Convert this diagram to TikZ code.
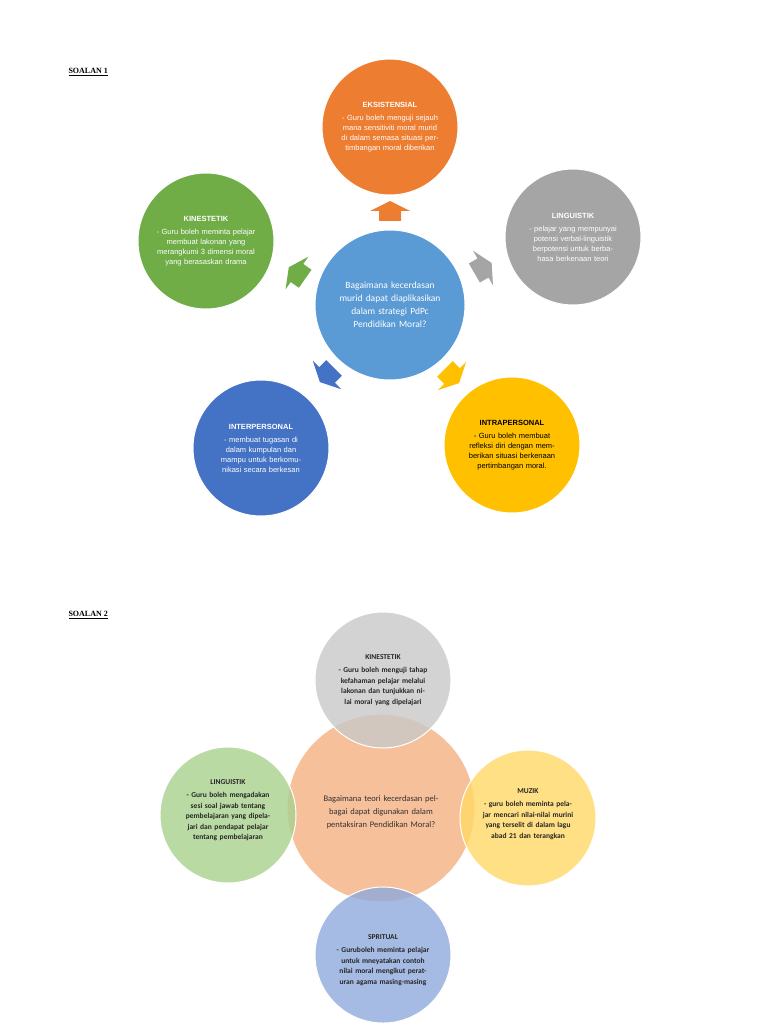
\documentclass[tikz,border=0pt]{standalone}
\usepackage{fontspec}
\setmainfont{Liberation Serif}
\newfontfamily\arialf{Liberation Sans}
\newfontfamily\calf{Carlito}
\definecolor{cor}{RGB}{237,125,49}
\definecolor{cgr}{RGB}{165,165,165}
\definecolor{cgn}{RGB}{112,173,71}
\definecolor{cbl}{RGB}{68,114,196}
\definecolor{cye}{RGB}{255,192,0}
\definecolor{clb}{RGB}{91,155,213}
\definecolor{pc}{RGB}{244,177,131}
\definecolor{pg}{RGB}{201,201,201}
\definecolor{pgn}{RGB}{169,209,142}
\definecolor{py}{RGB}{255,217,102}
\definecolor{pb}{RGB}{143,170,220}
\begin{document}
\begin{tikzpicture}[x=1pt,y=-1pt,
  one/.style={circle,minimum size=136pt,inner sep=0pt,draw=white,line width=1pt},
  txt/.style={align=center,text width=100pt,font=\arialf\fontsize{7.5}{10}\selectfont,text=white},
  two/.style={circle,minimum size=136pt,inner sep=0pt,draw=white,line width=1pt,fill opacity=0.8},
  txtb/.style={align=center,text width=108pt,font=\calf\bfseries\fontsize{7.5}{10.5}\selectfont,text=black!85}]
\fill[white] (0,0) rectangle (768,1024);
\useasboundingbox (0,0) rectangle (768,1024);
\node[anchor=west,font=\bfseries\fontsize{8}{9}\selectfont] (s1) at (65,72) {\underline{SOALAN 1}};
\node[anchor=west,font=\bfseries\fontsize{8}{9}\selectfont] (s2) at (65,615) {\underline{SOALAN 2}};
% part 1
\node[one,fill=cor] (eks) at (390,127) {};
\node[one,fill=cgr] (lin) at (573,237) {};
\node[one,fill=cgn] (kin) at (206,241) {};
\node[one,fill=cbl] (inter) at (261,448) {};
\node[one,fill=cye] (intra) at (512,445) {};
\node[one,minimum size=150pt,fill=clb] (c1) at (390,305) {};
\node[txt] at (390,127) {\textbf{EKSISTENSIAL}\\[3pt]- Guru boleh menguji sejauh mana sensitiviti moral murid di dalam semasa situasi pertimbangan moral diberikan};
\node[txt] at (573,237) {\textbf{LINGUISTIK}\\[3pt]- pelajar yang mempunyai potensi verbal-linguistik berpotensi untuk berbahasa berkenaan teori};
\node[txt] at (206,241) {\textbf{KINESTETIK}\\[3pt]- Guru boleh meminta pelajar membuat lakonan yang merangkumi 3 dimensi moral yang berasaskan drama};
\node[txt] at (261,448) {\textbf{INTERPERSONAL}\\[3pt]- membuat tugasan di dalam kumpulan dan mampu untuk berkomunikasi secara berkesan};
\node[txt,text=black] at (512,445) {\textbf{INTRAPERSONAL}\\[3pt]- Guru boleh membuat refleksi diri dengan memberikan situasi berkenaan pertimbangan moral.};
\node[align=center,text width=110pt,font=\calf\fontsize{9.5}{13}\selectfont,text=white] at (390,305) {Bagaimana kecerdasan murid dapat diaplikasikan dalam strategi PdPc Pendidikan Moral?};
\def\blk{(-10pt,-11pt) -- (0pt,-11pt) -- (0pt,-20pt) -- (10pt,0pt) -- (0pt,20pt) -- (0pt,11pt) -- (-10pt,11pt) -- cycle}
\fill[cor,shift={(390,211)},rotate=90] \blk;
\fill[cgn,shift={(297,273)},rotate=145] \blk;
\fill[cgr,shift={(483,268)},rotate=30] \blk;
\fill[cbl,shift={(327,375)},rotate=225] \blk;
\fill[cye,shift={(452,376)},rotate=-45] \blk;
% part 2
\node[two,minimum size=188pt,fill=pc] (c2) at (381,808) {};
\node[two,fill=pg] (k2) at (383,680) {};
\node[two,fill=pgn] (l2) at (228,815) {};
\node[two,fill=py] (m2) at (528,818) {};
\node[two,fill=pb] (sp) at (383,955) {};
\node[txtb] at (383,680) {KINESTETIK\\[3pt]- Guru boleh menguji tahap kefahaman pelajar melalui lakonan dan tunjukkan nilai moral yang dipelajari};
\node[txtb,text width=104pt] at (228,810) {LINGUISTIK\\[3pt]- Guru boleh mengadakan sesi soal jawab tentang pembelajaran yang dipelajari dan pendapat pelajar tentang pembelajaran};
\node[txtb] at (528,814) {MUZIK\\[3pt]- guru boleh meminta pelajar mencari nilai-nilai murini yang terselit di dalam lagu abad 21 dan terangkan};
\node[txtb] at (383,960) {SPRITUAL\\[3pt]- Guruboleh meminta pelajar untuk mneyatakan contoh nilai moral mengikut peraturan agama masing-masing};
\node[align=center,text width=140pt,font=\calf\fontsize{8.5}{13}\selectfont,text=black!80] at (381,812) {Bagaimana teori kecerdasan pelbagai dapat digunakan dalam pentaksiran Pendidikan Moral?};
\end{tikzpicture}
\end{document}
